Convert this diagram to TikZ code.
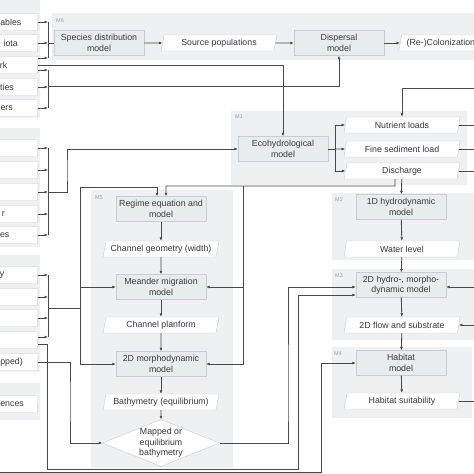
\documentclass[tikz,border=0pt]{standalone}
\usepackage{fontspec}
\setmainfont{Liberation Sans}
\usepackage{xcolor}
\usetikzlibrary{arrows.meta, positioning, shapes.geometric, calc}

\definecolor{panelgray}{HTML}{EEF0F1}
\definecolor{boxgray}{HTML}{E9ECED}
\definecolor{boxline}{HTML}{C9CDCF}
\definecolor{wiregray}{HTML}{4A4A4A}
\definecolor{textgray}{HTML}{3A3A3A}
\definecolor{bandgray}{HTML}{D2D3D4}

\newcommand{\boxfont}{\fontsize{8.8}{10.4}\selectfont}

\tikzset{
  panel/.style={fill=panelgray, draw=none},
  mlabel/.style={font=\fontsize{5.5}{6}\selectfont, text=gray!75, anchor=north west, inner sep=0pt},
  modelbox/.style={rectangle, fill=boxgray, draw=boxline, line width=0.4pt,
    minimum width=90pt, minimum height=25pt, align=center, inner sep=1pt,
    font=\boxfont, text=textgray},
  databox/.style={trapezium, trapezium left angle=73, trapezium right angle=107,
    trapezium stretches body, fill=white, draw=boxline, line width=0.4pt,
    minimum width=116pt, minimum height=16pt, inner sep=1pt,
    font=\boxfont, text=textgray},
  inbox/.style={databox, minimum width=90pt, minimum height=17pt},
  intext/.style={font=\boxfont, text=textgray, inner sep=0pt, anchor=east},
  decision/.style={diamond, fill=white, draw=boxline, line width=0.4pt,
    minimum width=117pt, minimum height=47pt, inner sep=0pt},
  dtext/.style={font=\boxfont, text=textgray, align=center, inner sep=0pt},
  wire/.style={draw=wiregray, line width=0.85pt},
  arr/.style={wire, -{Latex[length=3.5pt,width=3pt]}},
}

\begin{document}
\begin{tikzpicture}[x=1pt, y=-1pt]
  \useasboundingbox (0,0) rectangle (474,474);
  \clip (0,0) rectangle (474,474);

  % grey panels (left input groups, then M1..M6)
  \fill[panel] (-10,-10) rectangle (40,118);
  \fill[panel] (-10,128) rectangle (40,247);
  \fill[panel] (-10,255) rectangle (40,372);
  \fill[panel] (-10,383) rectangle (40,420);
  \fill[panel] (52,13) rectangle (480,60);    % M6
  \fill[panel] (231,111) rectangle (467,185); % M1
  \fill[panel] (332,193) rectangle (480,260); % M2
  \fill[panel] (332,269) rectangle (480,340); % M3
  \fill[panel] (332,347) rectangle (472,418); % M4
  \fill[panel] (91,190) rectangle (233,468);  % M5
  \fill[bandgray] (-10,471.5) rectangle (321,480);

  \node[mlabel] (m6) at (56,18) {M6};
  \node[mlabel] (m1) at (235,115) {M1};
  \node[mlabel] (m2) at (335,197) {M2};
  \node[mlabel] (m3) at (335,273) {M3};
  \node[mlabel] (m4) at (334,352) {M4};
  \node[mlabel] (m5) at (95,196) {M5};

  % left input items (cut at the page edge)
  \foreach \n/\y in {a1/22, a2/43, a3/65, a4/87, a5/108,
                     b1/148, b2/170, b3/192, b4/214, b5/235,
                     c1/275, c2/297, c3/318, c4/340, c5/362, d1/404}
    \node[inbox] (\n) at (-7,\y) {};
  \foreach \n/\t/\x/\y in {ta1/ables/21.5/22, ta2/iota/18/43, ta3/rk/7.5/65,
                           ta4/ties/14/87, ta5/ers/13/108,
                           tb4/r/5/214, tb5/es/9.5/235,
                           tc1/y/4.5/275, tc5/pped)/23/362, td1/ences/24/404}
    \node[intext] (\n) at (\x,\y) {\t};

  % M6: species distribution and dispersal
  \node[modelbox] (sdm) at (99,43) {Species distribution\\model};
  \node[databox] (srcpop) at (219,43) {Source populations};
  \node[modelbox] (disp) at (339,43) {Dispersal\\model};
  \node[databox, anchor=west, text width=100pt, align=left] (recol) at (400,43) {(Re-)Colonization};

  % M1: ecohydrology
  \node[modelbox] (eco) at (283,149) {Ecohydrological\\model};
  \node[databox] (nutr) at (402,125) {Nutrient loads};
  \node[databox] (fsed) at (402,149) {Fine sediment load};
  \node[databox] (disch) at (402,171) {Discharge};

  % M2 - M4
  \node[modelbox] (hyd1d) at (401,207) {1D hydrodynamic\\model};
  \node[databox] (wlev) at (402,249) {Water level};
  \node[modelbox] (hyd2d) at (401,285) {2D hydro-, morpho-\\dynamic model};
  \node[databox] (flow2d) at (402,325) {2D flow and substrate};
  \node[modelbox] (habm) at (401,363) {Habitat\\model};
  \node[databox] (habs) at (402,401) {Habitat suitability};

  % M5: morphology
  \node[modelbox] (regime) at (161,209) {Regime equation and\\model};
  \node[databox] (chgeo) at (161,249) {Channel geometry (width)};
  \node[modelbox] (meander) at (161,287) {Meander migration\\model};
  \node[databox] (plan) at (161,325) {Channel planform};
  \node[modelbox] (morph) at (161,364) {2D morphodynamic\\model};
  \node[databox] (bathy) at (161,402) {Bathymetry (equilibrium)};
  \node[decision] (dia) at (161,443) {};
  \node[dtext] (diatxt) at (dia) {Mapped or\\equilibrium\\bathymetry};

  % helper points
  \coordinate (busA) at (48,43);
  \coordinate (busB) at (48,86);
  \coordinate (busC) at (48,192);
  \coordinate (busD) at (48,308);
  \coordinate (a3up) at ([yshift=7pt]a3.east);
  \coordinate (a3dn) at ([yshift=-5pt]a3.east);
  \coordinate (c4up) at ([yshift=3pt]c4.east);
  \coordinate (c4dn) at ([yshift=-4pt]c4.east);
  \coordinate (jogB) at (67,170);
  \coordinate (jogC) at (70,400);
  \coordinate (jogD) at (288,400);
  \coordinate (spineL) at (80,308);
  \coordinate (topL) at (80,187);
  \coordinate (regL) at ([xshift=-4pt]regime.north);
  \coordinate (regR) at ([xshift=5pt]regime.north);
  \coordinate (dchL) at ([xshift=-7pt]disch.south);
  \coordinate (dchK) at (395,186);
  \coordinate (spineR) at (243,186);
  \coordinate (ecoK) at (335,149);
  \coordinate (hyin1) at ([yshift=-2pt]hyd2d.west);
  \coordinate (hyin2) at ([yshift=-10pt]hyd2d.west);
  \coordinate (hyin3) at ([yshift=-2pt]hyd2d.east);
  \coordinate (cornBL) at (47,469);
  \coordinate (cornBR) at (298,469);
  \coordinate (btm) at (-10,472);
  \coordinate (cornH) at (321,472);
  \coordinate (redge) at (480,0);
  \coordinate (rinN) at (480,88);

  % left brackets
  \foreach \p in {a1.east, a2.east, a3up}
    \draw[arr] (\p) -- (\p -| busA);
  \draw[wire] (busA |- a1.east) -- (busA |- a3up);
  \draw[wire] (busA) -- (sdm.west);
  \foreach \p in {a3dn, a4.east, a5.east}
    \draw[arr] (\p) -- (\p -| busB);
  \draw[wire] (busB |- a3dn) -- (busB |- a5.east);
  \draw[arr] (busB) -| (disp.south);
  \draw[arr] (a3.east) -| (eco.north);
  \foreach \n in {b1,b2,b3,b4,b5}
    \draw[arr] (\n.east) -- (\n.east -| busC);
  \draw[wire] (busC |- b1.east) -- (busC |- b5.east);
  \draw[arr] (busC) -| (jogB) |- (eco.west);
  \foreach \p in {c1.east, c2.east, c3.east, c4up}
    \draw[arr] (\p) -- (\p -| busD);
  \draw[wire] (busD |- c1.east) -- (busD |- c4up);
  \draw[wire] (busD) -- (spineL);
  \draw[arr] (spineL) -- (topL) -| (regL);
  \draw[arr] (spineL) |- (meander.west);
  \draw[arr] (spineL) |- (morph.west);
  \draw[arr] (c5.east) -| (jogC) |- (dia.west);
  \draw[arr] (c4dn) -| (cornBL) -- (cornBR) |- (hyin2);
  \draw[arr] (btm) -- (cornH) |- (habm.west);

  % M6 chain
  \draw[arr] (sdm.east) -- (srcpop.west);
  \draw[arr] (srcpop.east) -- (disp.west);
  \draw[arr] (disp.east) -- (recol.west);

  % M1 outputs
  \draw[wire] (eco.east) -- (ecoK);
  \draw[arr] (ecoK) |- (nutr.west);
  \draw[arr] (ecoK) -- (fsed.west);
  \draw[arr] (ecoK) |- (disch.west);
  \draw[arr] (rinN) -| (nutr.north);
  \foreach \n in {nutr, fsed, disch, habs}
    \draw[wire] (\n.east) -- (\n.east -| redge);
  \draw[arr] (dchL) -- (dchK) -| (regR);
  \draw[arr] (spineR) |- (meander.east);
  \draw[arr] (spineR) |- (morph.east);

  % right column chain
  \foreach \u/\v in {disch/hyd1d, hyd1d/wlev, wlev/hyd2d, hyd2d/flow2d, flow2d/habm, habm/habs}
    \draw[arr] (\u) -- (\v);
  \draw[arr] (hyin3 -| redge) -- (hyin3);
  \draw[arr] (flow2d.east -| redge) -- (flow2d.east);

  % M5 chain
  \foreach \u/\v in {regime/chgeo, chgeo/meander, meander/plan, plan/morph, morph/bathy, bathy/dia}
    \draw[arr] (\u) -- (\v);
  \draw[arr] (dia.east) -| (jogD) |- (hyin1);
\end{tikzpicture}
\end{document}
